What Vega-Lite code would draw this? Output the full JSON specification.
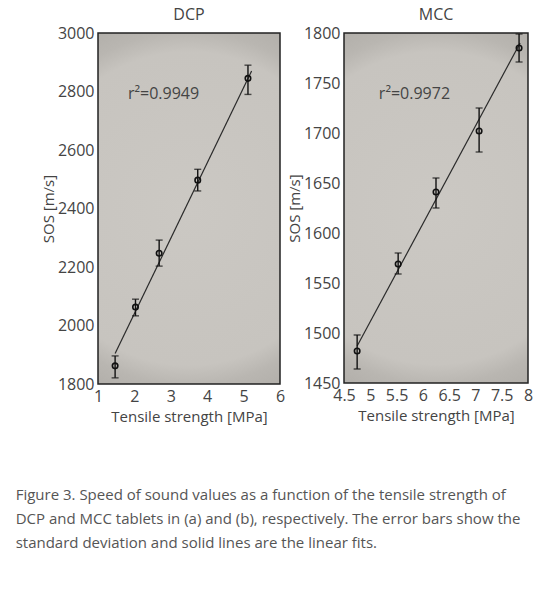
{
  "$schema": "https://vega.github.io/schema/vega-lite/v6.json",
  "background": "white",
  "padding": {"left": 15, "top": 6, "right": 5, "bottom": 5},
  "config": {
    "font": "Open Sans",
    "view": {
      "fill": {
        "gradient": "radial",
        "x1": 0.5, "y1": 0.5, "x2": 0.5, "y2": 0.5, "r1": 0, "r2": 0.72,
        "stops": [
          {"offset": 0, "color": "#cbc8c3"},
          {"offset": 0.62, "color": "#c7c4bf"},
          {"offset": 0.7, "color": "#b9b6b1"},
          {"offset": 1, "color": "#a09d98"}
        ]
      },
      "stroke": "#222",
      "strokeWidth": 1.5
    },
    "axis": {
      "ticks": false,
      "domain": false,
      "grid": false,
      "labelFont": "Open Sans",
      "labelFontSize": 16,
      "labelColor": "#444",
      "labelPadding": 4,
      "labelBound": false,
      "labelFlush": false,
      "titleFont": "Open Sans",
      "titleFontSize": 15,
      "titleFontWeight": "normal",
      "titleColor": "#444"
    },
    "axisX": {"titlePadding": 5},
    "axisY": {"titlePadding": 1},
    "title": {"font": "Open Sans", "fontSize": 16, "fontWeight": "normal", "color": "#444", "offset": 2}
  },
  "title": {
    "text": [
      "Figure 3. Speed of sound values as a function of the tensile strength of",
      "DCP and MCC tablets in (a) and (b), respectively. The error bars show the",
      "standard deviation and solid lines are the linear fits."
    ],
    "orient": "bottom",
    "anchor": "start",
    "fontSize": 15,
    "fontWeight": "normal",
    "color": "#555",
    "lineHeight": 24,
    "offset": 63,
    "dx": -25
  },
  "spacing": 0,
  "hconcat": [
    {
      "width": 182,
      "height": 351,
      "title": "DCP",
      "data": {"values": [
        {"ts": 1.47, "sos": 1862, "lo": 1821, "hi": 1896},
        {"ts": 2.03, "sos": 2063, "lo": 2033, "hi": 2090},
        {"ts": 2.68, "sos": 2247, "lo": 2203, "hi": 2292},
        {"ts": 3.74, "sos": 2497, "lo": 2460, "hi": 2534},
        {"ts": 5.12, "sos": 2845, "lo": 2790, "hi": 2890}
      ]},
      "layer": [
        {
          "data": {"values": [{"ts": 1.47, "sos": 1904}, {"ts": 5.22, "sos": 2870}]},
          "mark": {"type": "line", "color": "#2a2a2a", "strokeWidth": 1.2},
          "encoding": {
            "x": {"field": "ts", "type": "quantitative", "scale": {"domain": [1, 6]}, "axis": {"values": [1, 2, 3, 4, 5, 6], "format": "d", "labelOverlap": false}, "title": "Tensile strength [MPa]"},
            "y": {"field": "sos", "type": "quantitative", "scale": {"domain": [1800, 3000]}, "axis": {"values": [1800, 2000, 2200, 2400, 2600, 2800, 3000], "format": "d", "labelOverlap": false}, "title": "SOS [m/s]"}
          }
        },
        {
          "mark": {"type": "errorbar", "ticks": {"size": 7}, "color": "#111", "thickness": 1.4},
          "encoding": {
            "x": {"field": "ts", "type": "quantitative", "axis": {"values": [1, 2, 3, 4, 5, 6], "format": "d", "labelOverlap": false}, "title": "Tensile strength [MPa]"},
            "y": {"field": "lo", "type": "quantitative", "axis": {"values": [1800, 2000, 2200, 2400, 2600, 2800, 3000], "format": "d", "labelOverlap": false}, "title": "SOS [m/s]"},
            "y2": {"field": "hi", "title": "SOS [m/s]"}
          }
        },
        {
          "mark": {"type": "point", "filled": false, "size": 30, "stroke": "#111", "strokeWidth": 1.6, "opacity": 1},
          "encoding": {
            "x": {"field": "ts", "type": "quantitative", "axis": {"values": [1, 2, 3, 4, 5, 6], "format": "d", "labelOverlap": false}, "title": "Tensile strength [MPa]"},
            "y": {"field": "sos", "type": "quantitative", "axis": {"values": [1800, 2000, 2200, 2400, 2600, 2800, 3000], "format": "d", "labelOverlap": false}, "title": "SOS [m/s]"}
          }
        },
        {
          "data": {"values": [{"ts": 2.8, "sos": 2792, "label": "r²=0.9949"}]},
          "mark": {"type": "text", "fontSize": 16, "color": "#444", "font": "Open Sans"},
          "encoding": {
            "x": {"field": "ts", "type": "quantitative", "axis": {"values": [1, 2, 3, 4, 5, 6], "format": "d", "labelOverlap": false}, "title": "Tensile strength [MPa]"},
            "y": {"field": "sos", "type": "quantitative", "axis": {"values": [1800, 2000, 2200, 2400, 2600, 2800, 3000], "format": "d", "labelOverlap": false}, "title": "SOS [m/s]"},
            "text": {"field": "label"}
          }
        }
      ]
    },
    {
      "width": 184,
      "height": 350,
      "title": "MCC",
      "data": {"values": [
        {"ts": 4.75, "sos": 1482, "lo": 1464, "hi": 1498},
        {"ts": 5.53, "sos": 1569, "lo": 1559, "hi": 1580},
        {"ts": 6.25, "sos": 1641, "lo": 1625, "hi": 1655},
        {"ts": 7.07, "sos": 1702, "lo": 1681, "hi": 1725},
        {"ts": 7.83, "sos": 1785, "lo": 1771, "hi": 1799}
      ]},
      "layer": [
        {
          "data": {"values": [{"ts": 4.75, "sos": 1487}, {"ts": 7.85, "sos": 1790}]},
          "mark": {"type": "line", "color": "#2a2a2a", "strokeWidth": 1.2},
          "encoding": {
            "x": {"field": "ts", "type": "quantitative", "scale": {"domain": [4.5, 8]}, "axis": {"values": [4.5, 5, 5.5, 6, 6.5, 7, 7.5, 8], "format": "~g", "labelOverlap": false}, "title": "Tensile strength [MPa]"},
            "y": {"field": "sos", "type": "quantitative", "scale": {"domain": [1450, 1800]}, "axis": {"values": [1450, 1500, 1550, 1600, 1650, 1700, 1750, 1800], "format": "d", "labelOverlap": false}, "title": "SOS [m/s]"}
          }
        },
        {
          "mark": {"type": "errorbar", "ticks": {"size": 7}, "color": "#111", "thickness": 1.4},
          "encoding": {
            "x": {"field": "ts", "type": "quantitative", "axis": {"values": [4.5, 5, 5.5, 6, 6.5, 7, 7.5, 8], "format": "~g", "labelOverlap": false}, "title": "Tensile strength [MPa]"},
            "y": {"field": "lo", "type": "quantitative", "axis": {"values": [1450, 1500, 1550, 1600, 1650, 1700, 1750, 1800], "format": "d", "labelOverlap": false}, "title": "SOS [m/s]"},
            "y2": {"field": "hi", "title": "SOS [m/s]"}
          }
        },
        {
          "mark": {"type": "point", "filled": false, "size": 30, "stroke": "#111", "strokeWidth": 1.6, "opacity": 1},
          "encoding": {
            "x": {"field": "ts", "type": "quantitative", "axis": {"values": [4.5, 5, 5.5, 6, 6.5, 7, 7.5, 8], "format": "~g", "labelOverlap": false}, "title": "Tensile strength [MPa]"},
            "y": {"field": "sos", "type": "quantitative", "axis": {"values": [1450, 1500, 1550, 1600, 1650, 1700, 1750, 1800], "format": "d", "labelOverlap": false}, "title": "SOS [m/s]"}
          }
        },
        {
          "data": {"values": [{"ts": 5.84, "sos": 1739, "label": "r²=0.9972"}]},
          "mark": {"type": "text", "fontSize": 16, "color": "#444", "font": "Open Sans"},
          "encoding": {
            "x": {"field": "ts", "type": "quantitative", "axis": {"values": [4.5, 5, 5.5, 6, 6.5, 7, 7.5, 8], "format": "~g", "labelOverlap": false}, "title": "Tensile strength [MPa]"},
            "y": {"field": "sos", "type": "quantitative", "axis": {"values": [1450, 1500, 1550, 1600, 1650, 1700, 1750, 1800], "format": "d", "labelOverlap": false}, "title": "SOS [m/s]"},
            "text": {"field": "label"}
          }
        }
      ]
    }
  ]
}
